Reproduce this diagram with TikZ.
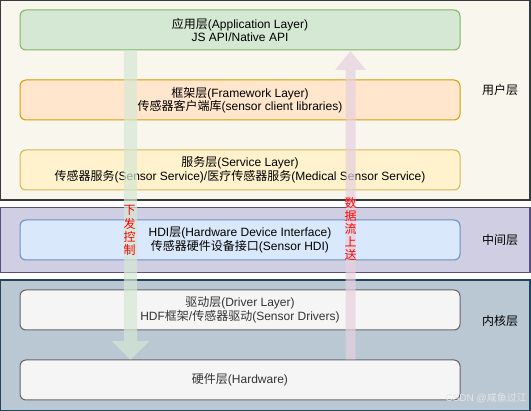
\documentclass[tikz,border=0pt]{standalone}
\usepackage{fontspec}
\setmainfont{Liberation Sans}
\newfontfamily\cjk{Noto Sans CJK SC}
\newcommand\zh[1]{{\cjk #1}}
\usetikzlibrary{calc}
\definecolor{userfill}{HTML}{F9F7ED}
\definecolor{userdraw}{HTML}{36393D}
\definecolor{midfill}{HTML}{D0CEE2}
\definecolor{middraw}{HTML}{56517E}
\definecolor{kerfill}{HTML}{BAC8D3}
\definecolor{kerdraw}{HTML}{23445D}
\definecolor{appfill}{HTML}{D5E8D4}
\definecolor{appdraw}{HTML}{82B366}
\definecolor{fwfill}{HTML}{FFE6CC}
\definecolor{fwdraw}{HTML}{D79B00}
\definecolor{svcfill}{HTML}{FFF2CC}
\definecolor{svcdraw}{HTML}{D6B656}
\definecolor{hdifill}{HTML}{DAE8FC}
\definecolor{hdidraw}{HTML}{6C8EBF}
\definecolor{grayfill}{HTML}{F5F5F5}
\definecolor{graydraw}{HTML}{666666}
\definecolor{graytext}{HTML}{333333}
\definecolor{upfill}{HTML}{E6D0DE}
\begin{document}
\begin{tikzpicture}[x=1pt,y=-1pt,
  layer/.style={line width=1.2pt},
  box/.style={rectangle, rounded corners=6pt, line width=1pt, minimum width=440pt,
    minimum height=40pt, align=center, inner sep=0pt,
    font=\fontsize{12}{13.6}\selectfont},
  side/.style={font=\fontsize{12}{14}\selectfont\cjk, text=black},
  redtxt/.style={font=\fontsize{12}{13.2}\selectfont\cjk, text=red, align=center, inner sep=0pt},
  flow/.style={fill opacity=0.7, draw=none}]
\useasboundingbox (0,0) rectangle (531,411);
% layer backgrounds
\path[layer, fill=userfill, draw=userdraw] (0.6,0.6) rectangle (530,200);
\path[layer, fill=midfill, draw=middraw] (0.6,207.5) rectangle (530,272.5);
\path[layer, fill=kerfill, draw=kerdraw] (0.6,280) rectangle (530,410.4);
% boxes
\node[box, fill=appfill, draw=appdraw] (app) at (240,30)
  {\zh{应用层}(Application Layer)\\JS API/Native API};
\node[box, fill=fwfill, draw=fwdraw] (fw) at (240,100)
  {\zh{框架层}(Framework Layer)\\\zh{传感器客户端库}(sensor client libraries)};
\node[box, fill=svcfill, draw=svcdraw] (svc) at (240,170)
  {\zh{服务层}(Service Layer)\\\zh{传感器服务}(Sensor Service)/\zh{医疗传感器服务}(Medical Sensor Service)};
\node[box, fill=hdifill, draw=hdidraw] (hdi) at (240,240)
  {HDI\zh{层}(Hardware Device Interface)\\\zh{传感器硬件设备接口}(Sensor HDI)};
\node[box, fill=grayfill, draw=graydraw, text=graytext] (drv) at (240,310)
  {\zh{驱动层}(Driver Layer)\\HDF\zh{框架}/\zh{传感器驱动}(Sensor Drivers)};
\node[box, fill=grayfill, draw=graydraw, text=graytext] (hw) at (240,380)
  {\zh{硬件层}(Hardware)};
% side labels
\node[side] (userlbl) at (500,90) {用户层};
\node[side] (midlbl) at (500,240) {中间层};
\node[side] (kerlbl) at (500,321) {内核层};
% flow arrows
\coordinate (gx) at (130.5,0);
\coordinate (px) at (350.5,0);
\fill[flow, fill=appfill]
  ($(app.south -| gx)+(-6.7,0)$) -- ($(hw.north -| gx)+(-6.7,-18.3)$)
  -- ($(hw.north -| gx)+(-18.8,-18.3)$) -- (hw.north -| gx)
  -- ($(hw.north -| gx)+(18.8,-18.3)$) -- ($(hw.north -| gx)+(6.7,-18.3)$)
  -- ($(app.south -| gx)+(6.7,0)$) -- cycle;
\fill[flow, fill=upfill]
  ($(hw.north -| px)+(-5,0)$) -- ($(app.south -| px)+(-5,19.5)$)
  -- ($(app.south -| px)+(-15.5,19.5)$) -- ($(app.south -| px)+(0,0.5)$)
  -- ($(app.south -| px)+(15.5,19.5)$) -- ($(app.south -| px)+(5,19.5)$)
  -- ($(hw.north -| px)+(5,0)$) -- cycle;
% flow labels
\node[redtxt] (ctrl) at (129.5,230.5) {下\\发\\控\\制};
\node[redtxt] (data) at (350.5,229) {数\\据\\流\\上\\送};
% watermark
\node[font=\fontsize{10}{12}\selectfont, text=white!80!gray, anchor=east, inner sep=0pt] (wm) at (527,398) {CSDN @\zh{咸鱼过江}};
\end{tikzpicture}
\end{document}
